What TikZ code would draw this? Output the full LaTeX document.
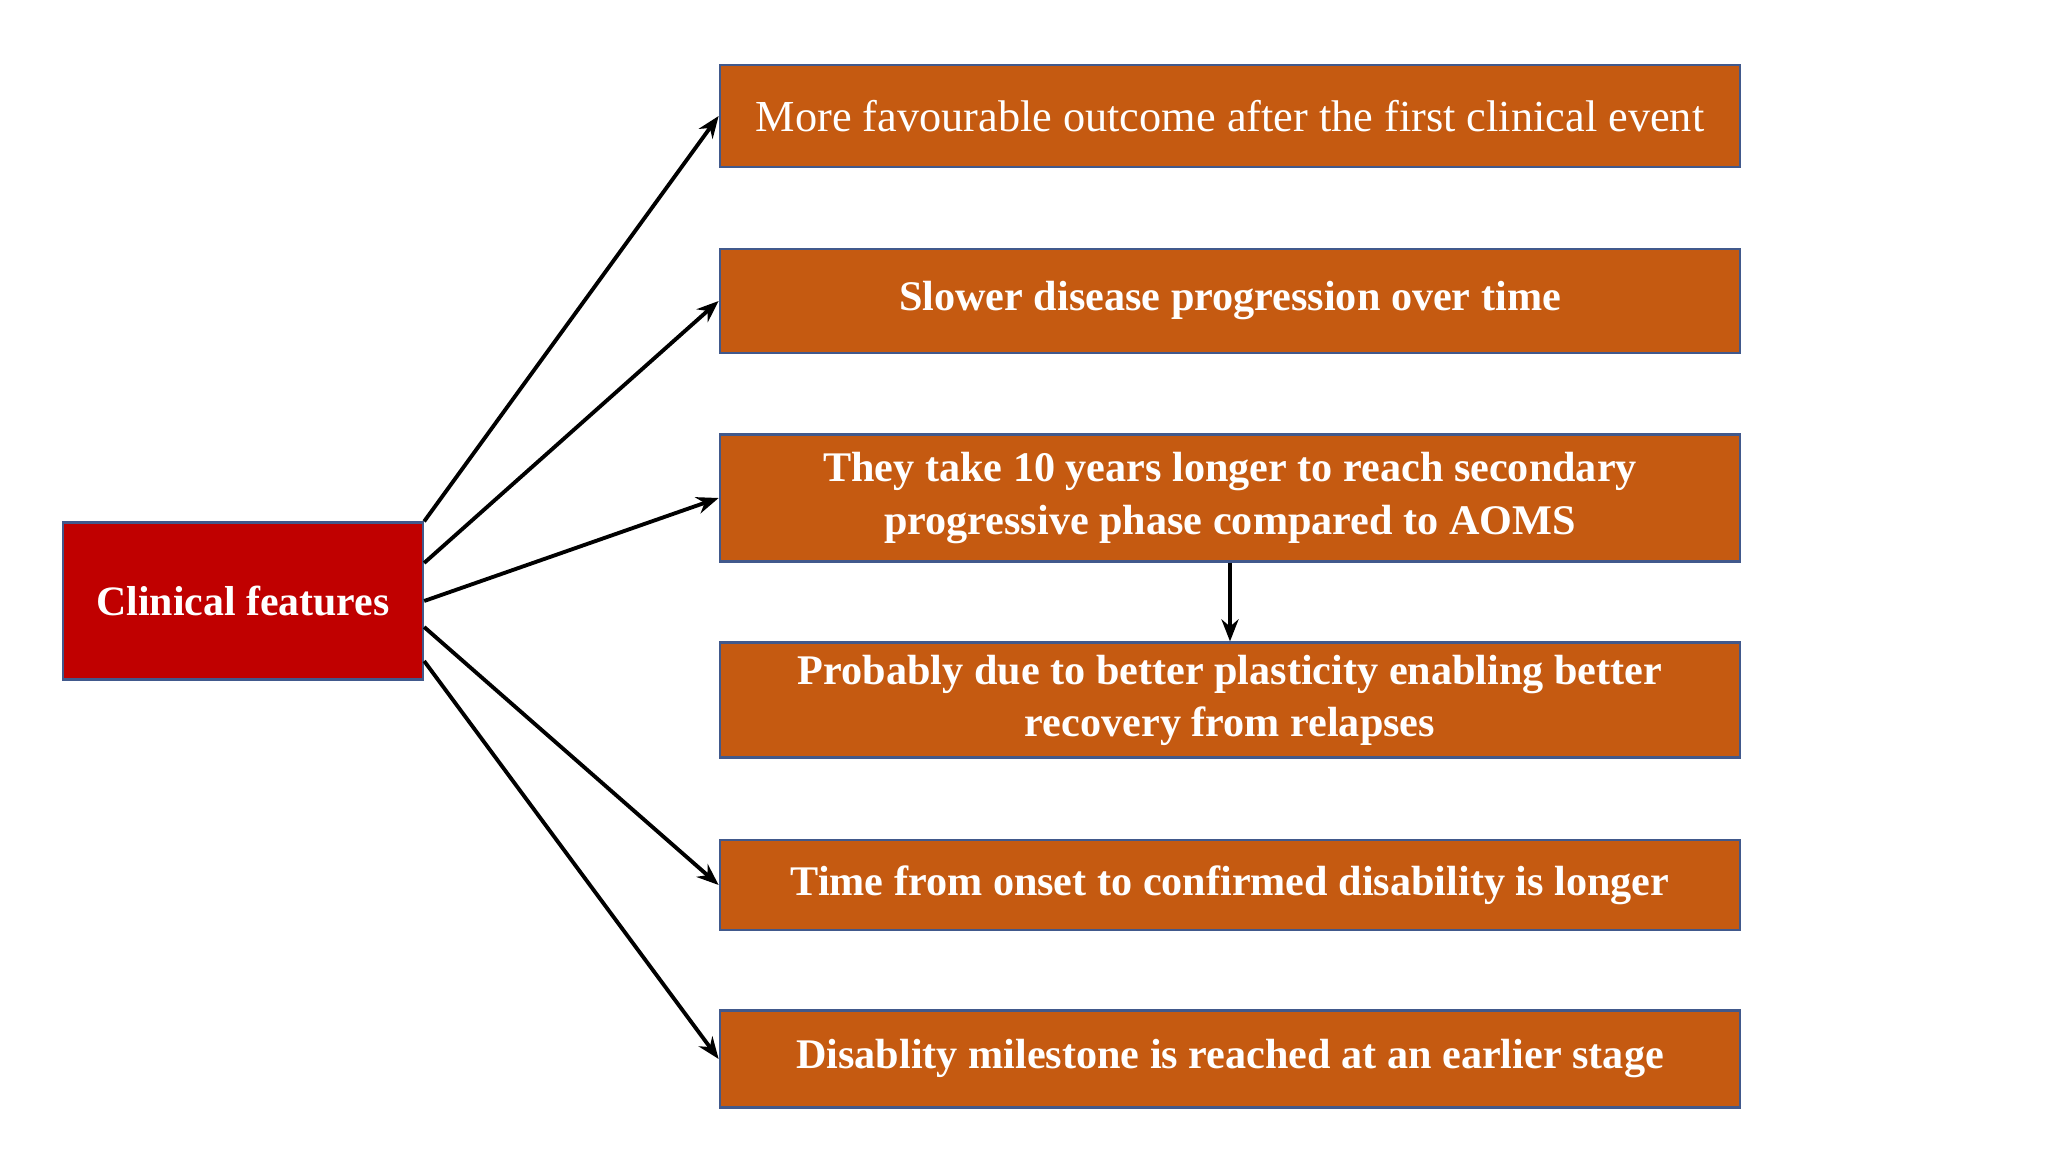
\documentclass[tikz,border=0pt]{standalone}
\usepackage{fontspec}
\setmainfont{Liberation Serif}
\usepackage{xcolor}
\usepackage{tikz}
\usetikzlibrary{arrows.meta, positioning}

\definecolor{featred}{HTML}{C00000}
\definecolor{featorange}{HTML}{C55A11}
\definecolor{featedge}{HTML}{41598C}

\begin{document}
\begin{tikzpicture}[
    x=0.01cm, y=-0.01cm,
    block/.style={rectangle, draw=featedge, line width=0.6pt, fill=featorange, text=white, minimum width=10.2cm, align=center, font=\fontsize{12}{14.8}\selectfont\bfseries, inner sep=0pt},
    source/.style={rectangle, draw=featedge, line width=0.6pt, fill=featred, text=white, minimum width=3.6cm, minimum height=1.57cm, align=center, font=\fontsize{11.9}{14.8}\selectfont\bfseries},
    arrow/.style={-{Stealth[length=2.2mm, width=1.7mm]}, line width=1.1pt}
]
\useasboundingbox (0,0) rectangle (2048,1152);

\node[source] (clin) at (243,601) {Clinical features};

\node[block, minimum height=1.02cm, font=\fontsize{12.6}{15}\selectfont] (outcome) at (1230,116) {More favourable outcome after the first clinical event};
\node[block, minimum height=1.04cm] (slower) at (1230,301) {Slower disease progression over time};
\node[block, minimum height=1.27cm] (tenyears) at (1230,498) {They take 10 years longer to reach secondary\\progressive phase compared to AOMS};
\node[block, minimum height=1.15cm] (plastic) at (1230,700) {Probably due to better plasticity enabling better\\recovery from relapses};
\node[block, minimum height=0.90cm] (onset) at (1230,885) {Time from onset to confirmed disability is longer};
\node[block, minimum height=0.97cm] (milestone) at (1230,1059) {Disablity milestone is reached at an earlier stage};

\draw[arrow] (clin.north east) -- (outcome.west);
\draw[arrow] ([yshift=0.38cm]clin.east) -- (slower.west);
\draw[arrow] (clin.east) -- (tenyears.west);
\draw[arrow] ([yshift=-0.26cm]clin.east) -- (onset.west);
\draw[arrow] ([yshift=-0.6cm]clin.east) -- (milestone.west);
\draw[arrow] (tenyears) -- (plastic);
\end{tikzpicture}
\end{document}
